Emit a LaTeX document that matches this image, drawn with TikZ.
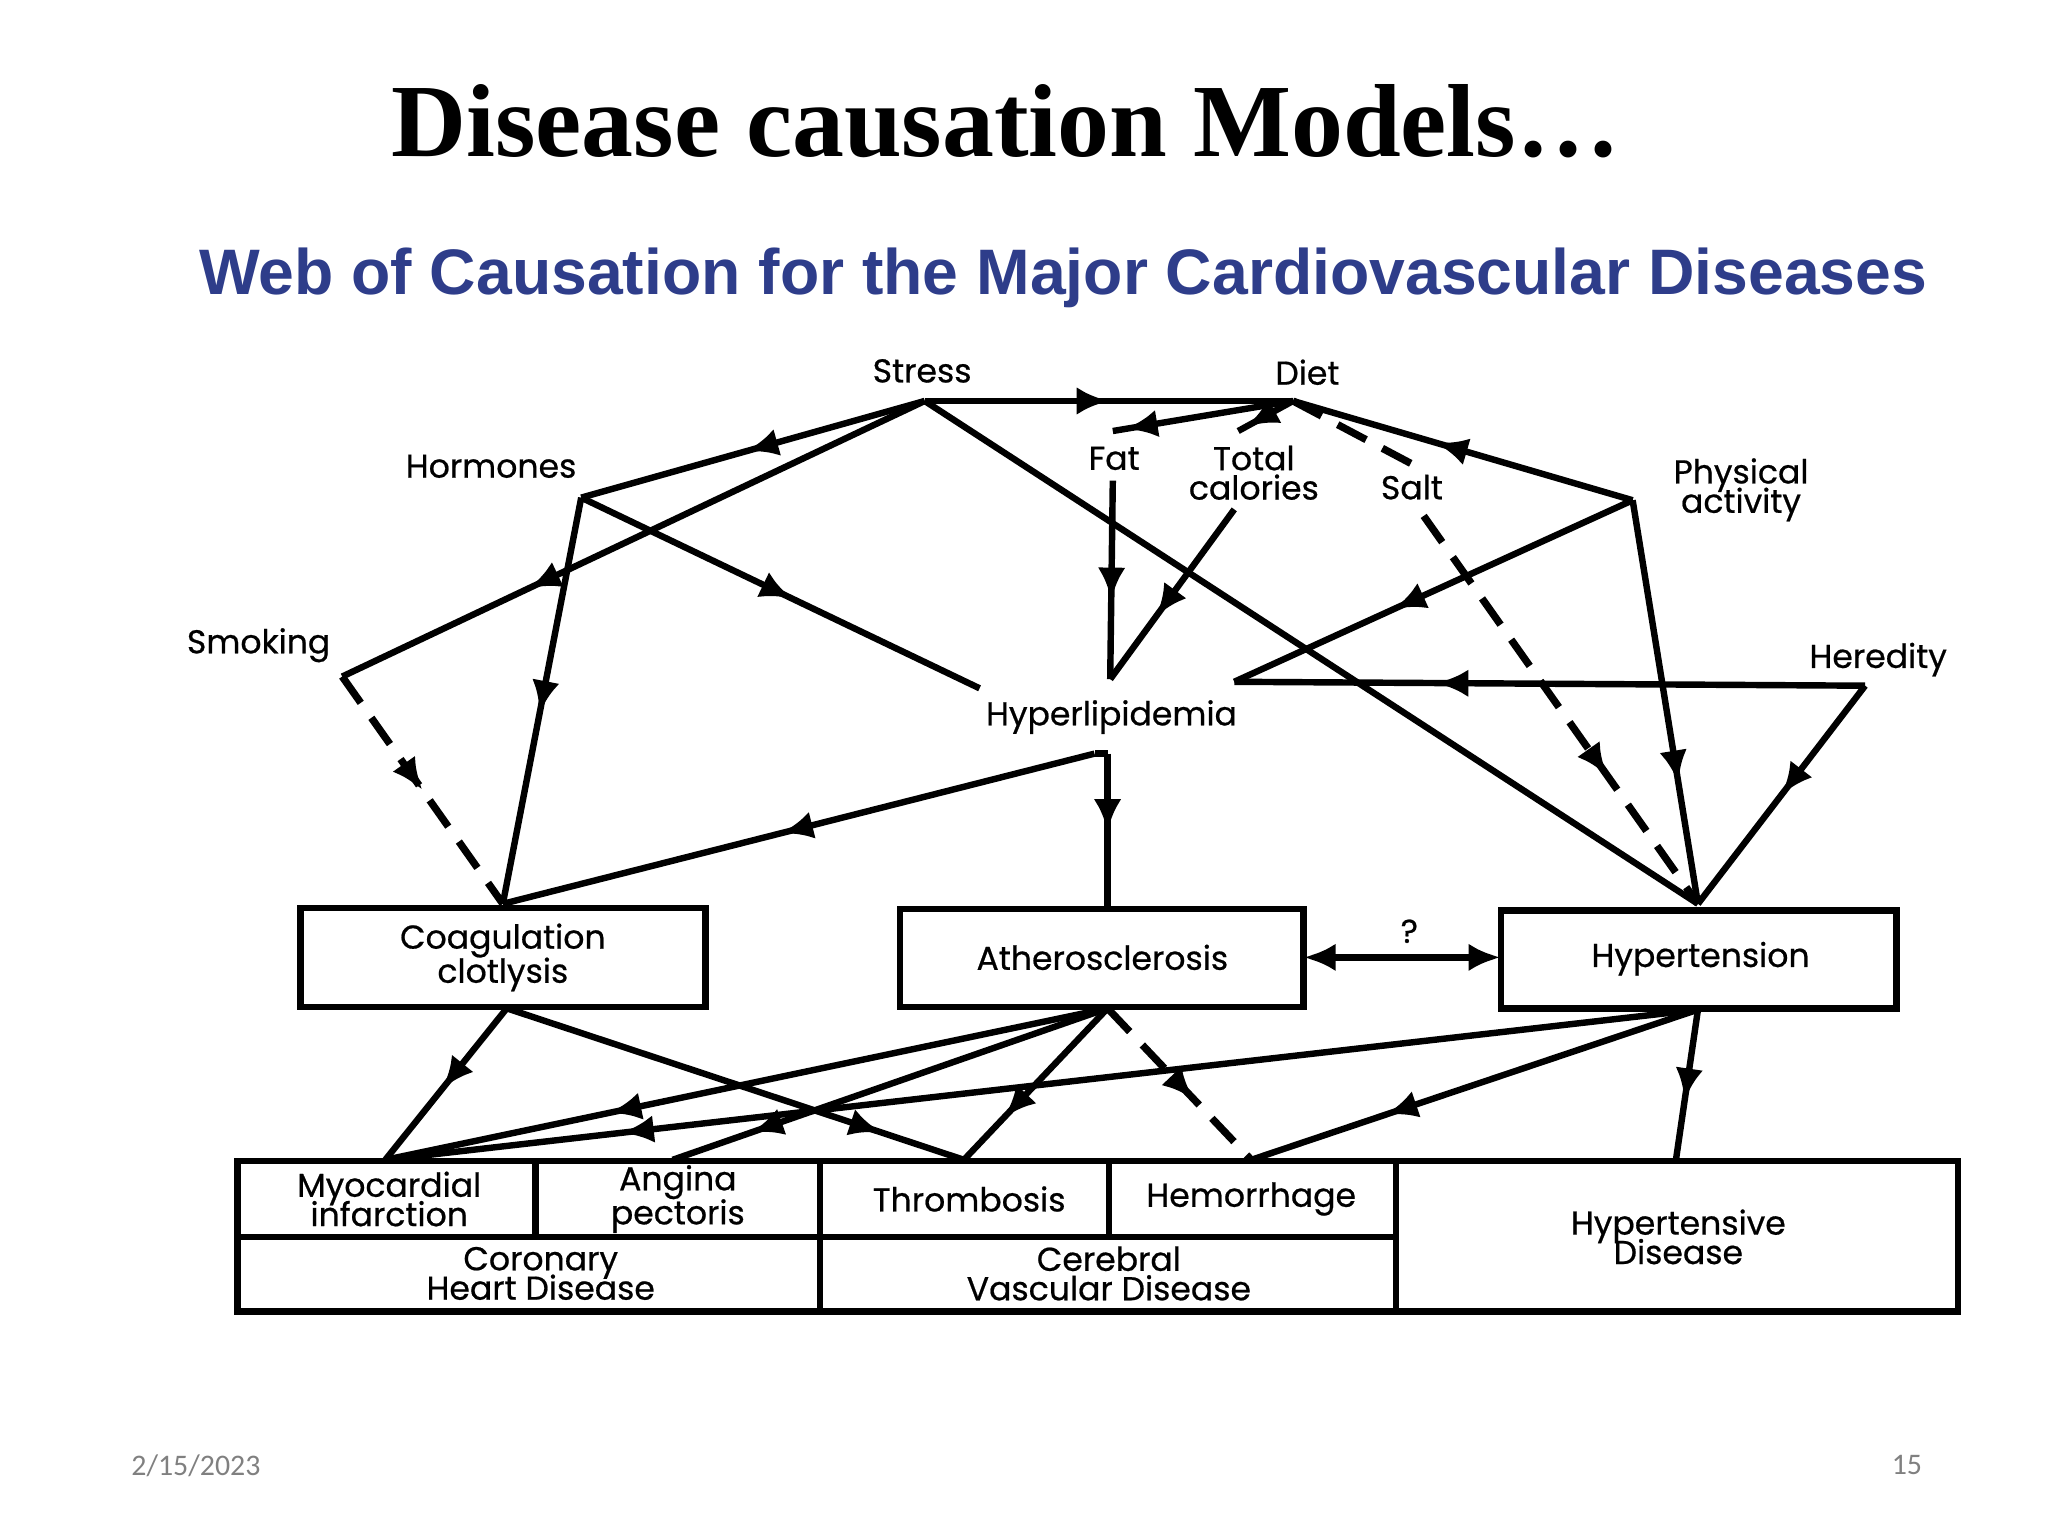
\documentclass[tikz,border=0pt]{standalone}
\usepackage{fontspec}
\setmainfont{Poppins}[FakeBold=0.6]
\newfontfamily\ttlfont{Liberation Serif}
\newfontfamily\subfont{Liberation Sans}
\newfontfamily\ftfont{Carlito}
\usetikzlibrary{decorations.markings,arrows.meta}
\definecolor{subblue}{HTML}{2E3D8A}
\tikzset{
 ln/.style={line width=1.4pt},
 dsh/.style={line width=1.6pt,dash pattern=on 7pt off 4pt},
 ma/.style={postaction={decorate},decoration={markings,mark=at position #1 with {\arrow{Latex[length=7pt,width=6pt]}}}},
 lbl/.style={font=\fontsize{7.2}{7.4}\selectfont,align=center,inner sep=0pt},
 bx/.style={draw,line width=1.4pt}
}
\begin{document}
\begin{tikzpicture}[x=0.01cm,y=-0.01cm]
\useasboundingbox (0,0) rectangle (1568,1176);
\node[inner sep=0] (title) at (770,93) {\ttlfont\bfseries\fontsize{22.6}{26}\selectfont Disease causation Models…};
\node[inner sep=0,text=subblue] (sub) at (814,213) {\subfont\bfseries\fontsize{14}{16}\selectfont Web of Causation for the Major Cardiovascular Diseases};
\node[text=gray,inner sep=0] (date) at (150,1122) {\ftfont\fontsize{6.5}{7}\selectfont 2/15/2023};
\node[text=gray,inner sep=0] (pg) at (1460,1122) {\ftfont\fontsize{6.5}{7}\selectfont 15};
% labels
\node[lbl] (stress) at (706,284) {Stress};
\node[lbl] (diet) at (1001,285) {Diet};
\node[lbl] (horm) at (376,357) {Hormones};
\node[lbl] (smok) at (198,494) {Smoking};
\node[lbl] (fat) at (853,351) {Fat};
\node[lbl] (tcal) at (960,362) {Total\\[-1pt]calories};
\node[lbl] (salt) at (1081,373) {Salt};
\node[lbl] (phys) at (1333,375) {Physical\\[-1pt]activity};
\node[lbl] (here) at (1438,505) {Heredity};
\node[lbl] (hyl) at (851,549) {Hyperlipidemia};
\node[lbl] (q) at (1079,713) {?};
% junctions
\coordinate (S) at (708,307); \coordinate (D) at (990,307);
\coordinate (H) at (445,381); \coordinate (Sm) at (262,518);
\coordinate (P) at (1250,383); \coordinate (He) at (1428,525);
\coordinate (F1) at (852,368); \coordinate (V) at (850,520);
\coordinate (TC) at (945,390); \coordinate (Fa) at (852,330); \coordinate (TCa) at (948,330);
\coordinate (Sa1) at (1090,360); \coordinate (Sa2) at (1090,395);
\coordinate (HP) at (945,522); \coordinate (HH) at (750,527);
\coordinate (HL) at (848,577); \coordinate (HL2) at (838,577);
% boxes
\draw[bx] (230,695) rectangle (540,771);
\node[lbl] (coagt) at (385,733) {Coagulation\\[-1pt]clotlysis};
\draw[bx] (689,696) rectangle (998,771);
\node[lbl] (ath) at (844,733) {Atherosclerosis};
\draw[bx] (1149,697) rectangle (1452,772);
\node[lbl] (hyp) at (1302,734) {Hypertension};
\coordinate (CT) at (385,692); \coordinate (CB) at (388,772);
\coordinate (AT) at (848,696); \coordinate (AB) at (848,772);
\coordinate (AR) at (998,733); \coordinate (HLf) at (1149,733);
\coordinate (YT) at (1300,692); \coordinate (YB) at (1300,773);
% table
\draw[bx] (182,889) rectangle (1499,1004);
\draw[bx] (182,947) -- (1069,947);
\draw[bx] (410,889) -- (410,947); \draw[bx] (628,889) -- (628,1004);
\draw[bx] (849,889) -- (849,947); \draw[bx] (1069,889) -- (1069,1004);
\node[lbl] (mi) at (298,918) {Myocardial\\[-1pt]infarction};
\node[lbl] (ap) at (519,918) {Angina\\[-1pt]pectoris};
\node[lbl] (th) at (742,918) {Thrombosis};
\node[lbl] (hm) at (958,918) {Hemorrhage};
\node[lbl] (chd) at (414,975) {Coronary\\[-1pt]Heart Disease};
\node[lbl] (cvd) at (849,975) {Cerebral\\[-1pt]Vascular Disease};
\node[lbl] (hd) at (1285,947) {Hypertensive\\[-1pt]Disease};
\coordinate (MIt) at (295,888); \coordinate (APt) at (515,888);
\coordinate (THt) at (738,888); \coordinate (HMt) at (958,888); \coordinate (HDt) at (1283,889);
% upper connectors
\draw[ln,ma=0.5] (S) -- (D);
\draw[ln,ma=0.52] (S) -- (H);
\draw[ln,ma=0.68] (S) -- (Sm);
\draw[ln] (S) -- (YT);
\draw[ln,ma=0.93] (D) -- (Fa);
\draw[ln,ma=0.85] (D) -- (TCa);
\draw[dsh] (D) -- (Sa1);
\draw[dsh,ma=0.67] (Sa2) -- (YT);
\draw[ln,ma=0.58] (P) -- (D);
\draw[ln,ma=0.6] (P) -- (HP);
\draw[ln,ma=0.7] (P) -- (YT);
\draw[ln,ma=0.68] (He) -- (HP);
\draw[ln,ma=0.5] (He) -- (YT);
\draw[ln,ma=0.6] (F1) -- (V);
\draw[ln,ma=0.63] (TC) -- (V);
\draw[ln,ma=0.53] (H) -- (HH);
\draw[ln,ma=0.53] (H) -- (CT);
\draw[dsh,ma=0.5] (Sm) -- (CT);
\draw[ln] (HL) -- (HL2);
\draw[ln,ma=0.53] (HL2) -- (CT);
\draw[ln,ma=0.5] (HL) -- (AT);
\draw[ln,{Latex[length=7pt,width=6pt]}-{Latex[length=7pt,width=6pt]}] (AR) -- (HLf);
% lower connectors
\draw[ln,ma=0.53] (CB) -- (MIt);
\draw[ln,ma=0.82] (CB) -- (THt);
\draw[ln,ma=0.69] (AB) -- (MIt);
\draw[ln,ma=0.82] (AB) -- (APt);
\draw[ln,ma=0.72] (AB) -- (THt);
\draw[dsh,ma=0.6] (AB) -- (HMt);
\draw[ln,ma=0.82] (YB) -- (MIt);
\draw[ln,ma=0.7] (YB) -- (HMt);
\draw[ln,ma=0.6] (YB) -- (HDt);
\end{tikzpicture}
\end{document}
